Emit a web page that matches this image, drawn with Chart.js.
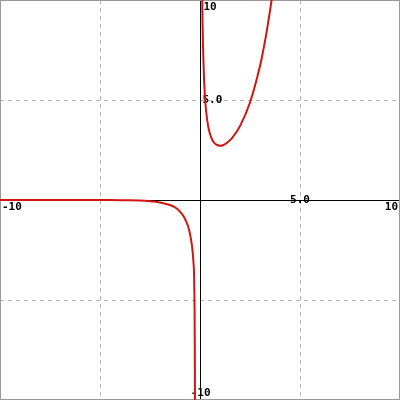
<!DOCTYPE html>
<html><head><style>body{margin:0;background:#fff}</style>
<script src="https://cdn.jsdelivr.net/npm/chart.js@4/dist/chart.umd.min.js"></script></head>
<body><canvas id="c" width="400" height="400"></canvas>
<script>
const negX=[-10,-8,-6,-5,-4,-3,-2.5,-2,-1.5,-1.2,-1,-0.8,-0.6,-0.5,-0.4,-0.35,-0.3,-0.27,-0.25];
const negY=[0,0,-0.001,-0.003,-0.008,-0.03,-0.06,-0.12,-0.25,-0.4,-0.58,-0.85,-1.3,-1.7,-2.3,-2.8,-3.6,-5.5,-10];
const posX=[0.08,0.09,0.1,0.12,0.15,0.2,0.25,0.3,0.4,0.5,0.6,0.7,0.85,1,1.15,1.3,1.6,2,2.5,3,3.3,3.5,3.6];
const posY=[13.5,12.1,11.05,9.40,7.74,6.107,5.136,4.50,3.73,3.297,3.037,2.873,2.750,2.718,2.740,2.822,3.096,3.695,4.873,6.695,8.217,9.46,10.14];
const pts=(xs,ys)=>xs.map((x,i)=>({x,y:ys[i]}));
const axesPlugin={id:'ax',beforeDatasetsDraw(ch){
 const c=ch.ctx,x=ch.scales.x,y=ch.scales.y;
 c.save();c.strokeStyle='#b4b4b4';c.lineWidth=1;c.setLineDash([4,4]);
 [-5,5].forEach(v=>{const px=Math.round(x.getPixelForValue(v))+0.5;c.beginPath();c.moveTo(px,0);c.lineTo(px,400);c.stroke();
  const py=Math.round(y.getPixelForValue(v))+0.5;c.beginPath();c.moveTo(0,py);c.lineTo(400,py);c.stroke();});
 c.setLineDash([]);c.strokeStyle='#000';
 const x0=Math.round(x.getPixelForValue(0))+0.5,y0=Math.round(y.getPixelForValue(0))+0.5;
 c.beginPath();c.moveTo(x0,0);c.lineTo(x0,400);c.moveTo(0,y0);c.lineTo(400,y0);c.stroke();
 c.strokeStyle='#999';c.strokeRect(0.5,0.5,399,399);
 c.fillStyle='#000';c.font='bold 11px "DejaVu Sans Mono"';c.textBaseline='middle';
 c.textAlign='left';c.fillText('-10',2,y0+7);
 c.textAlign='right';c.fillText('10',398,y0+7);
 c.textAlign='center';c.fillText('5.0',x.getPixelForValue(5),y0);
 c.textAlign='left';c.fillText('10',x0+3,7);c.fillText('5.0',x0+2,y.getPixelForValue(5));
 c.textAlign='right';c.fillText('-10',x0+10,393);
 c.restore();}};
new Chart(document.getElementById('c'),{type:'scatter',
 data:{datasets:[{data:pts(negX,negY)},{data:pts(posX,posY)}].map(d=>Object.assign(d,{showLine:true,borderColor:'#d01515',borderWidth:2,pointRadius:0,tension:0.2}))},
 options:{responsive:false,devicePixelRatio:1,animation:false,layout:{padding:0},
  plugins:{legend:{display:false},tooltip:{enabled:false}},
  scales:{x:{type:'linear',min:-10,max:10,display:false},y:{min:-10,max:10,display:false}}},
 plugins:[axesPlugin]});
</script></body></html>
